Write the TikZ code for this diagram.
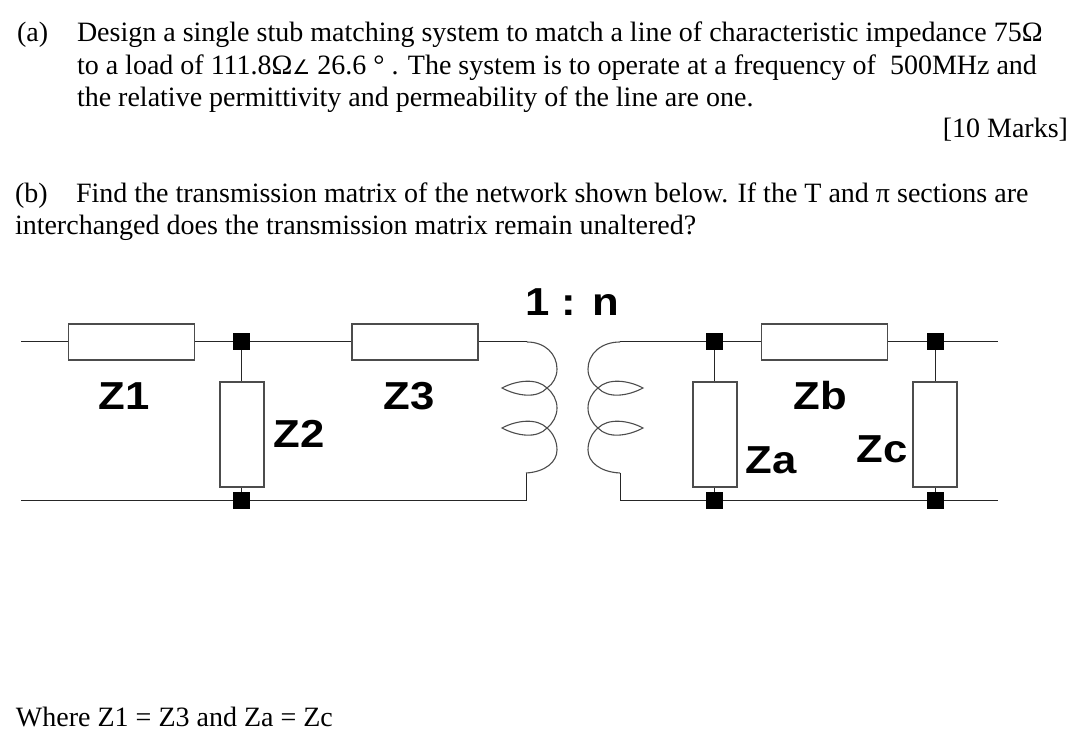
\documentclass[tikz,border=0pt]{standalone}
\usepackage{fontspec}
\setmainfont{Liberation Serif}
\newfontfamily\symfont{DejaVu Sans}
\newfontfamily\boldlab{Liberation Sans Bold}[FakeStretch=1.12]
\usetikzlibrary{calc}
\tikzset{
  txt/.style={anchor=base west,inner sep=0pt,outer sep=0pt,font=\fontsize{28}{32}\selectfont},
  lab/.style={anchor=center,inner sep=0pt,outer sep=0pt,font=\boldlab\fontsize{39}{42}\selectfont},
  imp/.style={draw=black!70,line width=1.3pt,fill=white,inner sep=0pt,outer sep=0pt},
  hbox/.style={imp,minimum width=126pt,minimum height=36pt},
  vbox/.style={imp,minimum width=44pt,minimum height=105pt},
  dot/.style={fill=black,inner sep=0pt,outer sep=0pt,minimum size=17pt},
  wire/.style={draw=black!85,line width=1pt},
  coil/.style={draw=black!70,line width=1.1pt}
}
\begin{document}
\begin{tikzpicture}[x=1pt,y=-1pt]
\useasboundingbox (0,0) rectangle (1082,735);
\fill[white] (0,0) rectangle (1082,735);
% text
\node[txt] (t1a) at (17,42) {(a)};
\node[txt] (t1) at (77,42) {Design a single stub matching system to match a line of characteristic impedance 75Ω};
\node[txt] (t2) at (77,75) {to a load of 111.8Ω{\symfont\fontsize{20}{20}\selectfont∠} 26.6 ° . The system is to operate at a frequency of \ 500MHz and};
\node[txt] (t3) at (77,107) {the relative permittivity and permeability of the line are one.};
\node[txt,anchor=base east] (t4) at (1068,138) {[10 Marks]};
\node[txt] (t5a) at (15,203) {(b)};
\node[txt] (t5) at (76,203) {Find the transmission matrix of the network shown below. If the T and π sections are};
\node[txt] (t6) at (15,235) {interchanged does the transmission matrix remain unaltered?};
\node[txt] (t7) at (16,726) {Where Z1 = Z3 and Za = Zc};
% junctions and free ends
\coordinate (lt) at (21,342);
\coordinate (lb) at (21,500);
\coordinate (rt) at (998,342);
\coordinate (rb) at (998,500);
\node[dot] (j1) at (241,342) {};
\node[dot] (j2) at (241,500) {};
\node[dot] (j3) at (714,342) {};
\node[dot] (j4) at (714,500) {};
\node[dot] (j5) at (935,342) {};
\node[dot] (j6) at (935,500) {};
\coordinate (p1t) at (527,342);
\coordinate (p1b) at (526,473);
\coordinate (p1e) at (526,500);
\coordinate (s1t) at (620,342);
\coordinate (s1b) at (620,473);
\coordinate (s1e) at (620,500);
% wires
\draw[wire] (lt) -- (p1t);
\draw[wire] (lb) -- (p1e) -- (p1b);
\draw[wire] (s1t) -- (rt);
\draw[wire] (s1b) -- (s1e) -- (rb);
\draw[wire] (j1) -- (j2);
\draw[wire] (j3) -- (j4);
\draw[wire] (j5) -- (j6);
% boxes
\node[hbox] (z1) at (131.5,342) {};
\node[hbox] (z3) at (415,342) {};
\node[hbox] (zb) at (824.5,342) {};
\node[vbox] (z2) at (242,434.5) {};
\node[vbox] (za) at (715,434.5) {};
\node[vbox] (zc) at (935,434.5) {};
\node[dot] at (j1) {};
\node[dot] at (j2) {};
\node[dot] at (j3) {};
\node[dot] at (j4) {};
\node[dot] at (j5) {};
\node[dot] at (j6) {};
% primary coil
\draw[coil] (p1t) .. controls (545,342) and (557,354) .. (557,369)
  .. controls (557,377) and (553,384) .. (547,388)
  .. controls (553,393) and (557,400) .. (557,408)
  .. controls (557,416) and (553,423) .. (547,428)
  .. controls (553,433) and (557,441) .. (557,450)
  .. controls (557,462) and (545,472) .. (p1b);
\draw[coil] (547,388) .. controls (537,378) and (517,380) .. (502,388)
  .. controls (517,396) and (537,399) .. (547,388);
\draw[coil] (547,428) .. controls (537,418) and (517,420) .. (502,428)
  .. controls (517,436) and (537,439) .. (547,428);
% secondary coil
\draw[coil] (s1t) .. controls (601,342) and (588,354) .. (588,369)
  .. controls (588,377) and (592,384) .. (598,388)
  .. controls (592,393) and (588,400) .. (588,408)
  .. controls (588,416) and (592,423) .. (598,428)
  .. controls (592,433) and (588,441) .. (588,450)
  .. controls (588,462) and (600,472) .. (s1b);
\draw[coil] (598,388) .. controls (608,378) and (628,380) .. (643,388)
  .. controls (628,396) and (608,399) .. (598,388);
\draw[coil] (598,428) .. controls (608,418) and (628,420) .. (643,428)
  .. controls (628,436) and (608,439) .. (598,428);
% labels
\node[lab] (lz1) at (124,396) {Z1};
\node[lab] (lz2) at (299,434) {Z2};
\node[lab] (lz3) at (409,396) {Z3};
\node[lab] (lza) at (771,460) {Za};
\node[lab] (lzb) at (820,396) {Zb};
\node[lab] (lzc) at (882,449) {Zc};
\node[lab] (ln) at (572,302) {1 : n};
\end{tikzpicture}
\end{document}
